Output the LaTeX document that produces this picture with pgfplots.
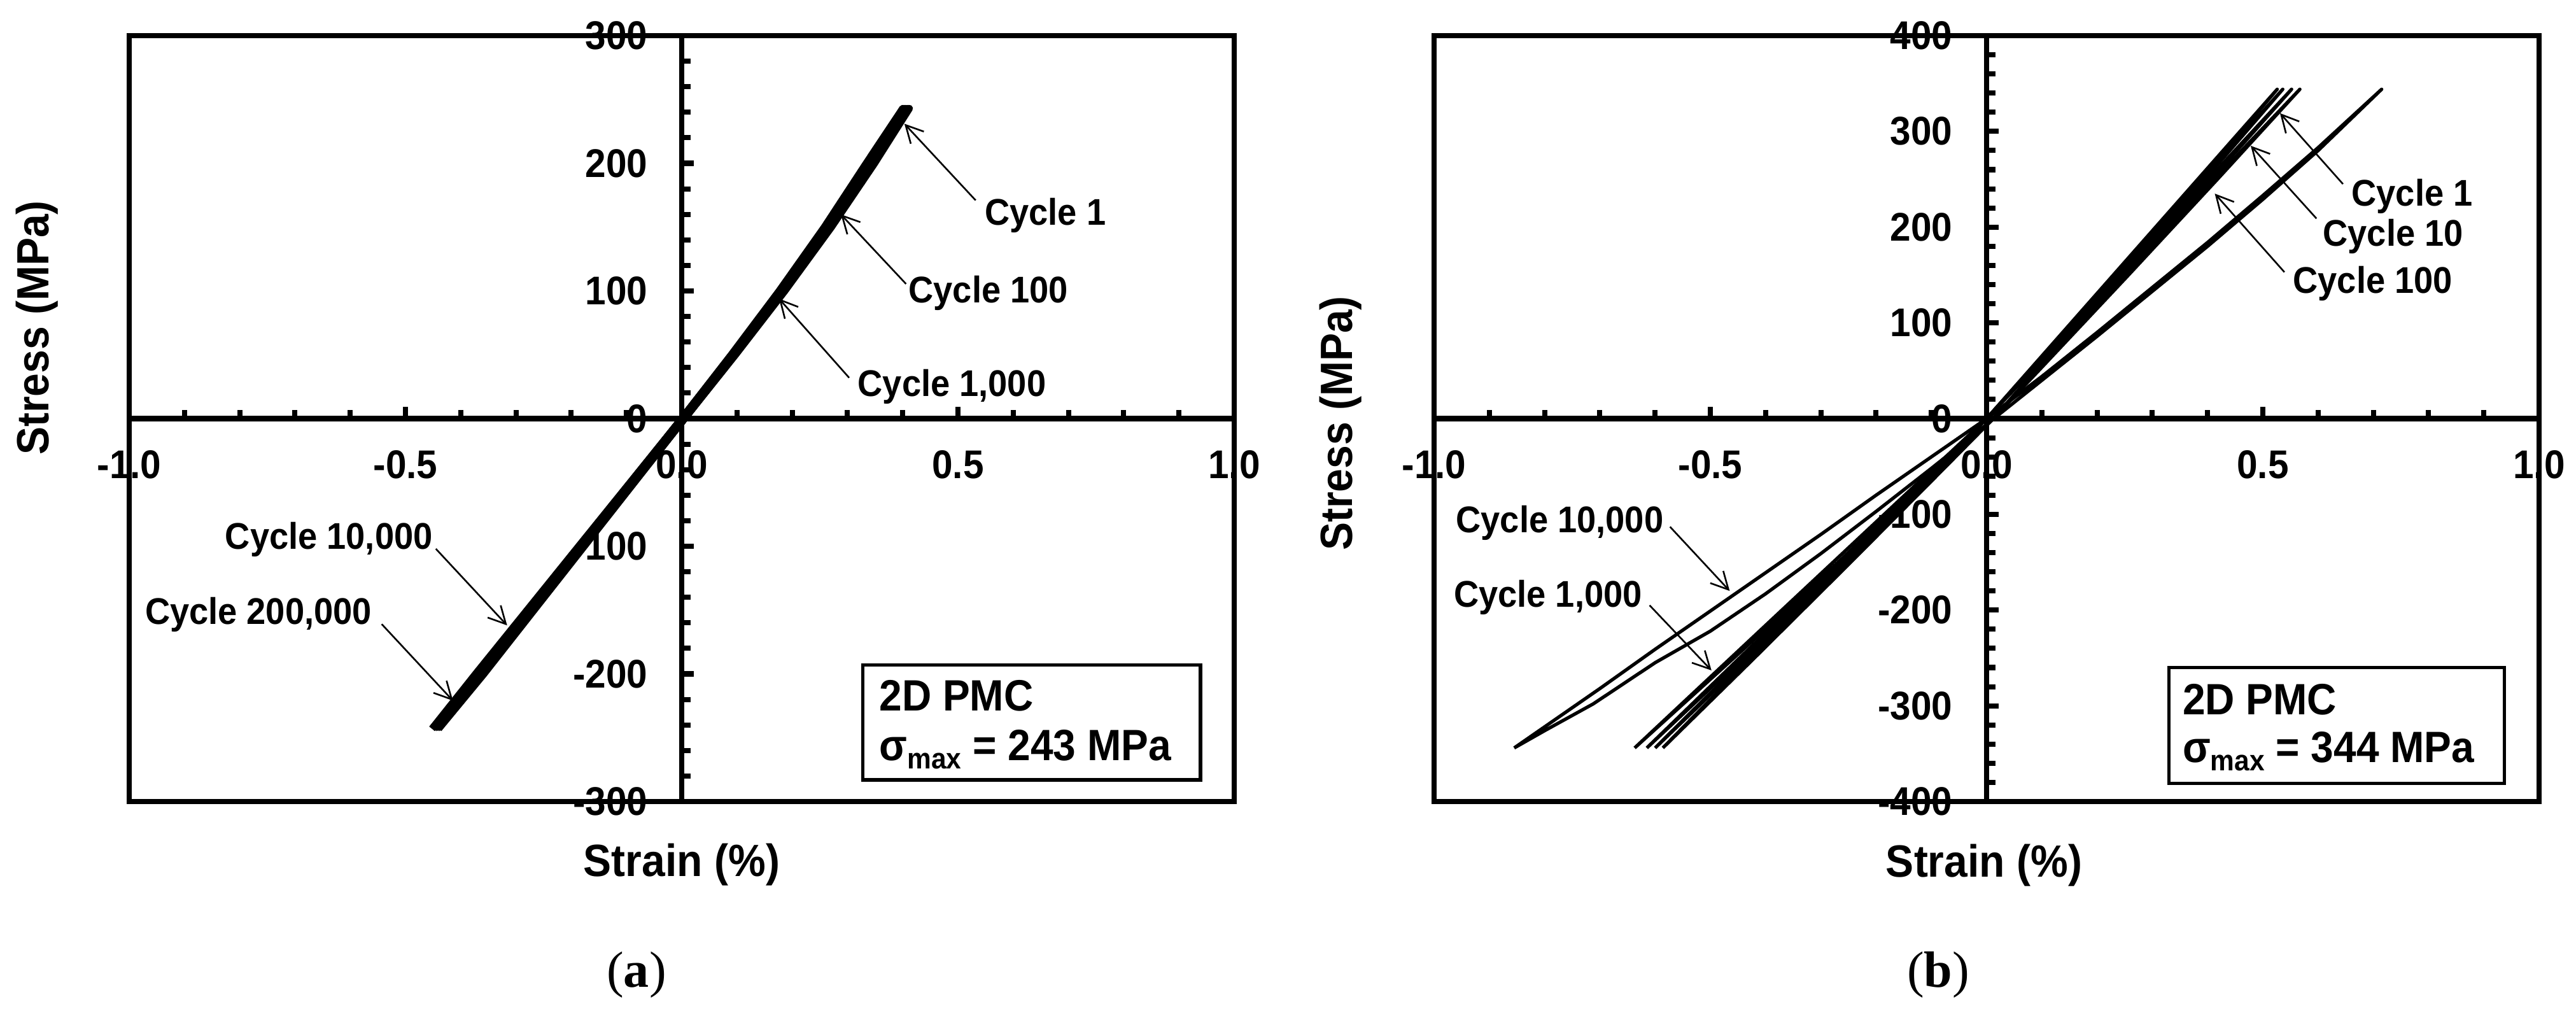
\documentclass[border=0pt]{standalone}
\usepackage{fontspec}
\setmainfont{Liberation Sans}[FakeStretch=0.93]
\newfontfamily\seriffont{Liberation Serif}
\usepackage{pgfplots}
\pgfplotsset{compat=1.18}
\usetikzlibrary{arrows.meta}
\newcommand\tickfont{\fontsize{17.9pt}{20pt}\selectfont\bfseries}
\newcommand\cycfont{\fontsize{16.6pt}{19pt}\selectfont\bfseries}
\newcommand\labfont{\fontsize{20.2pt}{24pt}\selectfont\bfseries}
\newcommand\boxfont{\fontsize{19.6pt}{22pt}\selectfont\bfseries}
\tikzset{
  cyc/.style={line width=1.5pt, black, line join=round},
  cyca/.style={line width=3.2pt, black, line join=round},
  ann/.style={line width=0.75pt, black, -{Straight Barb[length=2.7mm,width=2.8mm]}},
}
\pgfplotsset{
  stressaxis/.style={
    scale only axis, width=173.6mm, height=120.3mm,
    anchor=south west,
    xmin=-1, xmax=1,
    axis lines=middle,
    axis line style={-, line width=2.4pt, black},
    every inner x axis line/.append style={-},
    every inner y axis line/.append style={-},
    xtick={-1,-0.5,0,0.5,1},
    xticklabels={-1.0,-0.5,0.0,0.5,1.0},
    minor xtick={-0.9,-0.8,-0.7,-0.6,-0.4,-0.3,-0.2,-0.1,0.1,0.2,0.3,0.4,0.6,0.7,0.8,0.9},
    tick align=inside,
    major tick length=1.9mm, minor tick length=1.4mm,
    tick style={black, line width=2.3pt},
    hide obscured x ticks=false, hide obscured y ticks=false,
    xticklabel style={font=\tickfont, anchor=north, yshift=-4.9mm, inner sep=0pt},
    yticklabel style={font=\tickfont, anchor=east, xshift=-5.3mm, inner sep=0pt},
    clip mode=individual,
  },
}
\begin{document}
\begin{tikzpicture}
\useasboundingbox (0,0) rectangle (404.7mm,159.8mm);
% ---------------- panel (a)
\begin{axis}[stressaxis, at={(20.3mm,33.9mm)},
  ymin=-300, ymax=300,
  ytick={-300,-200,-100,0,100,200,300},
  yticklabels={-300,-200,-100,0,100,200,300},
  minor ytick={-280,-260,-240,-220,-180,-160,-140,-120,-80,-60,-40,-20,20,40,60,80,120,140,160,180,220,240,260,280},
]
% Cycle 1
\addplot[cyca] coordinates {(-0.440,-243) (-0.3630,-200) (-0.2723,-150) (-0.1815,-100) (-0.0908,-50) (0,0) (0.0896,50) (0.1763,100) (0.2581,150) (0.3339,200) (0.400,243)
 (0.3389,200) (0.2631,150) (0.1813,100) (0.0946,50) (0.005,0) (-0.0858,-50) (-0.1765,-100) (-0.2673,-150) (-0.3580,-200) (-0.440,-243)};
% Cycle 100
\addplot[cyca] coordinates {(-0.443,-243) (-0.3655,-200) (-0.2742,-150) (-0.1828,-100) (-0.0914,-50) (0,0) (0.0903,50) (0.1777,100) (0.2601,150) (0.3365,200) (0.403,243)
 (0.3415,200) (0.2651,150) (0.1827,100) (0.0953,50) (0.005,0) (-0.0864,-50) (-0.1778,-100) (-0.2692,-150) (-0.3605,-200) (-0.443,-243)};
% Cycle 1,000
\addplot[cyca] coordinates {(-0.446,-243) (-0.368,-200) (-0.276,-150) (-0.184,-100) (-0.092,-50) (0,0) (0.091,50) (0.179,100) (0.262,150) (0.339,200) (0.406,243)
 (0.344,200) (0.267,150) (0.184,100) (0.096,50) (0.005,0) (-0.087,-50) (-0.179,-100) (-0.271,-150) (-0.363,-200) (-0.446,-243)};
% Cycle 10,000
\addplot[cyca] coordinates {(-0.449,-243) (-0.3705,-200) (-0.2778,-150) (-0.1852,-100) (-0.0926,-50) (0,0) (0.0917,50) (0.1803,100) (0.2639,150) (0.3415,200) (0.409,243)
 (0.3465,200) (0.2689,150) (0.1853,100) (0.0967,50) (0.005,0) (-0.0876,-50) (-0.1802,-100) (-0.2728,-150) (-0.3655,-200) (-0.449,-243)};
% Cycle 200,000
\addplot[cyca] coordinates {(-0.452,-243) (-0.3730,-200) (-0.2797,-150) (-0.1865,-100) (-0.0932,-50) (0,0) (0.0923,50) (0.1816,100) (0.2659,150) (0.3440,200) (0.412,243)
 (0.3490,200) (0.2709,150) (0.1866,100) (0.0973,50) (0.005,0) (-0.0882,-50) (-0.1815,-100) (-0.2747,-150) (-0.3680,-200) (-0.452,-243)};
\draw[line width=2.3pt] (rel axis cs:0,0) rectangle (rel axis cs:1,1);
% annotations
\draw[ann] (axis cs:0.532,171) -- (axis cs:0.403,231);
\draw[ann] (axis cs:0.406,105.5) -- (axis cs:0.288,160);
\draw[ann] (axis cs:0.303,32) -- (axis cs:0.176,94);
\draw[ann] (axis cs:-0.445,-102) -- (axis cs:-0.316,-162);
\draw[ann] (axis cs:-0.543,-161) -- (axis cs:-0.414,-221);
\node[font=\cycfont, anchor=base west, inner sep=0pt] at (axis cs:0.548,151.7) {Cycle 1};
\node[font=\cycfont, anchor=base west, inner sep=0pt] at (axis cs:0.410,91) {Cycle 100};
\node[font=\cycfont, anchor=base west, inner sep=0pt] at (axis cs:0.318,17.4) {Cycle 1,000};
\node[font=\cycfont, anchor=base west, inner sep=0pt] at (axis cs:-0.827,-102) {Cycle 10,000};
\node[font=\cycfont, anchor=base west, inner sep=0pt] at (axis cs:-0.972,-161) {Cycle 200,000};
\draw[line width=1.5pt, fill=white] (axis cs:0.328,-193) rectangle (axis cs:0.939,-283);
\node[font=\boxfont, anchor=base west, inner sep=0pt] at (axis cs:0.357,-229) {2D PMC};
\node[font=\boxfont, anchor=base west, inner sep=0pt] at (axis cs:0.357,-268) {σ\raisebox{-1.3mm}{\fontsize{13pt}{13pt}\selectfont max} = 243 MPa};
\end{axis}
% ---------------- panel (b)
\begin{axis}[stressaxis, at={(225.3mm,33.9mm)},
  ymin=-400, ymax=400,
  ytick={-400,-300,-200,-100,0,100,200,300,400},
  yticklabels={-400,-300,-200,-100,0,100,200,300,400},
  minor ytick={-380,-360,-340,-320,-280,-260,-240,-220,-180,-160,-140,-120,-80,-60,-40,-20,20,40,60,80,120,140,160,180,220,240,260,280,320,340,360,380},
]
% Cycle 1
\addplot[cyc] coordinates {(-0.586,-344) (-0.4259,-250) (-0.2555,-150) (-0.0852,-50) (0,0) (0.0765,50) (0.2294,150) (0.3823,250) (0.526,344)
 (0.388,250) (0.239,150) (0.0882,50) (0.012,0) (-0.0735,-50) (-0.2458,-150) (-0.4202,-250) (-0.586,-344)};
% Cycle 10
\addplot[cyc] coordinates {(-0.600,-344) (-0.4360,-250) (-0.2616,-150) (-0.0872,-50) (0,0) (0.0779,50) (0.2337,150) (0.3895,250) (0.536,344)
 (0.3952,250) (0.2434,150) (0.0896,50) (0.012,0) (-0.0755,-50) (-0.2519,-150) (-0.4303,-250) (-0.600,-344)};
% Cycle 100
\addplot[cyc] coordinates {(-0.615,-344) (-0.4470,-250) (-0.2682,-150) (-0.0894,-50) (0,0) (0.0802,50) (0.2407,150) (0.4012,250) (0.552,344)
 (0.4069,250) (0.2504,150) (0.0919,50) (0.012,0) (-0.0777,-50) (-0.2585,-150) (-0.4413,-250) (-0.615,-344)};
% Cycle 1,000
\addplot[cyc] coordinates {(-0.637,-344) (-0.4630,-250) (-0.2778,-150) (-0.0926,-50) (0,0) (0.0824,50) (0.2472,150) (0.4121,250) (0.567,344)
 (0.4178,250) (0.2569,150) (0.0941,50) (0.012,0) (-0.0809,-50) (-0.2681,-150) (-0.4573,-250) (-0.637,-344)};
% Cycle 10,000
\addplot[cyc] coordinates {(-0.855,-344) (-0.8,-322) (-0.7,-282) (-0.6,-241) (-0.5,-201) (-0.4,-161) (-0.3,-121) (-0.2,-80) (-0.1,-40) (0,0) (0.1,44) (0.2,90) (0.3,137) (0.4,184) (0.5,233) (0.6,283) (0.715,344)
 (0.6,280) (0.5,229) (0.4,180) (0.3,133) (0.2,86) (0.1,40) (0,-6) (-0.1,-52) (-0.2,-97) (-0.3,-141) (-0.4,-183) (-0.5,-222) (-0.6,-255) (-0.712,-298) (-0.8,-326) (-0.855,-344)};
\draw[line width=2.3pt] (rel axis cs:0,0) rectangle (rel axis cs:1,1);
\draw[ann] (axis cs:0.645,245) -- (axis cs:0.531,319);
\draw[ann] (axis cs:0.597,209) -- (axis cs:0.478,285);
\draw[ann] (axis cs:0.539,153) -- (axis cs:0.413,235);
\draw[ann] (axis cs:-0.573,-113) -- (axis cs:-0.465,-180);
\draw[ann] (axis cs:-0.610,-195) -- (axis cs:-0.498,-263);
\node[font=\cycfont, anchor=base west, inner sep=0pt] at (axis cs:0.660,222) {Cycle 1};
\node[font=\cycfont, anchor=base west, inner sep=0pt] at (axis cs:0.608,180) {Cycle 10};
\node[font=\cycfont, anchor=base west, inner sep=0pt] at (axis cs:0.554,130.7) {Cycle 100};
\node[font=\cycfont, anchor=base west, inner sep=0pt] at (axis cs:-0.961,-119) {Cycle 10,000};
\node[font=\cycfont, anchor=base west, inner sep=0pt] at (axis cs:-0.965,-197) {Cycle 1,000};
\draw[line width=1.5pt, fill=white] (axis cs:0.330,-260) rectangle (axis cs:0.937,-381);
\node[font=\boxfont, anchor=base west, inner sep=0pt] at (axis cs:0.354,-309) {2D PMC};
\node[font=\boxfont, anchor=base west, inner sep=0pt] at (axis cs:0.354,-359) {σ\raisebox{-1.3mm}{\fontsize{13pt}{13pt}\selectfont max} = 344 MPa};
\end{axis}
% ---------------- outer labels
\node[font=\labfont, anchor=base] at (107.1mm,22.2mm) {Strain (\%)};
\node[font=\labfont, anchor=base] at (311.7mm,22.1mm) {Strain (\%)};
\node[font=\labfont, rotate=90] at (5.8mm,108.3mm) {Stress (MPa)};
\node[font=\labfont, rotate=90] at (210.6mm,93.3mm) {Stress (MPa)};
\node[font=\seriffont\fontsize{22.8pt}{26pt}\selectfont] at (100mm,6.7mm) {(\textbf{a})};
\node[font=\seriffont\fontsize{22.8pt}{26pt}\selectfont] at (304.5mm,6.7mm) {(\textbf{b})};
\end{tikzpicture}
\end{document}
